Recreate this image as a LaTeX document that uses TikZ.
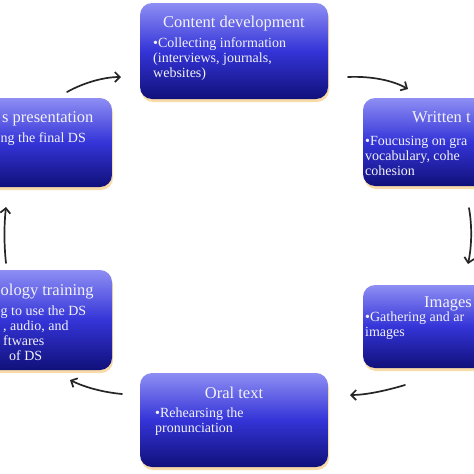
\documentclass[tikz,border=0pt]{standalone}
\usepackage{fontspec}
\setmainfont{Liberation Serif}
\usetikzlibrary{arrows.meta,shadows}
\definecolor{btop}{HTML}{8E8EF4}
\definecolor{bmid}{HTML}{3434D8}
\definecolor{bbot}{HTML}{10107A}
\definecolor{txt}{HTML}{F2F2F7}
\definecolor{glow}{HTML}{F0B040}
\tikzset{
  box/.style={rectangle, rounded corners=12pt, top color=btop, bottom color=bbot, middle color=bmid,
    draw=none, inner sep=0pt,
    drop shadow={shadow xshift=1pt, shadow yshift=-3pt, fill=glow, opacity=0.45}},
  ttl/.style={text=txt, inner sep=0pt, font=\fontsize{16.5}{19}\selectfont},
  bul/.style={text=txt, inner sep=0pt, align=left, font=\fontsize{14}{15}\selectfont},
  flow/.style={draw=black!85, line width=1.7pt, line cap=round, -{Straight Barb[length=5pt,width=10pt,line width=1.7pt]}}
}
\begin{document}
\begin{tikzpicture}[x=1pt,y=-1pt]
\useasboundingbox (0,0) rectangle (474,474);
\clip (0,0) rectangle (474,474);
\fill[white] (0,0) rectangle (474,474);
% boxes
\node[box, minimum width=188pt, minimum height=96pt] (cd) at (234,51) {};
\node[box, minimum width=188pt, minimum height=89pt] (ds) at (18,142.5) {};
\node[box, minimum width=188pt, minimum height=88pt] (wt) at (457,142) {};
\node[box, minimum width=188pt, minimum height=100pt] (tt) at (18,320) {};
\node[box, minimum width=188pt, minimum height=83pt] (im) at (457,326.5) {};
\node[box, minimum width=188pt, minimum height=94pt] (ot) at (234,420) {};
% content development
\node[ttl, anchor=base] (cdt) at (234,27.5) {Content development};
\node[bul, anchor=north west] (cdb) at (153,37.5) {\textbullet Collecting information\\(interviews, journals,\\websites)};
% DS presentation (visible part)
\node[ttl, anchor=base west] (dst) at (2,122.5) {s presentation};
\node[bul, anchor=base west] (dsb) at (0.5,142) {ng the final DS};
% written text (visible part)
\node[ttl, anchor=base west] (wtt) at (412,122.5) {Written t};
\node[bul, anchor=north west] (wtb) at (365,136.5) {\textbullet Foucusing on gra\\vocabulary, cohe\\cohesion};
% technology training (visible part)
\node[ttl, anchor=base west] (ttt) at (0.5,295.5) {ology training};
\node[bul, anchor=base west] (ttb1) at (0.5,315) {g to use the DS};
\node[bul, anchor=base west] (ttb2) at (3,330) {, audio, and};
\node[bul, anchor=base west] (ttb3) at (3,345) {ftwares};
\node[bul, anchor=base west] (ttb4) at (9,360) {of DS};
% images (visible part)
\node[ttl, anchor=base west] (imt) at (424,307.5) {Images};
\node[bul, anchor=north west] (imb) at (365,311.5) {\textbullet Gathering and ar\\images};
% oral text
\node[ttl, anchor=base] (ott) at (234,398.5) {Oral text};
\node[bul, anchor=north west] (otb) at (155,407.5) {\textbullet Rehearsing the\\pronunciation};
% arrows
\coordinate (a1s) at (67,92);  \coordinate (a1e) at (121,77);
\coordinate (a2s) at (348,77); \coordinate (a2e) at (408,89);
\coordinate (a3s) at (469,208); \coordinate (a3e) at (468,264);
\coordinate (a4s) at (6,263); \coordinate (a4e) at (6,207);
\coordinate (a5s) at (405,385); \coordinate (a5e) at (350,395);
\coordinate (a6s) at (122,394); \coordinate (a6e) at (70,380);
\draw[flow] (a1s) .. controls (85,82) and (105,77) .. (a1e);
\draw[flow] (a2s) .. controls (370,76) and (392,80) .. (a2e);
\draw[flow] (a3s) .. controls (472,225) and (472,245) .. (a3e);
\draw[flow] (a4s) .. controls (4,245) and (4,225) .. (a4e);
\draw[flow] (a5s) .. controls (385,391) and (365,395) .. (a5e);
\draw[flow] (a6s) .. controls (100,392) and (82,386) .. (a6e);
\end{tikzpicture}
\end{document}
